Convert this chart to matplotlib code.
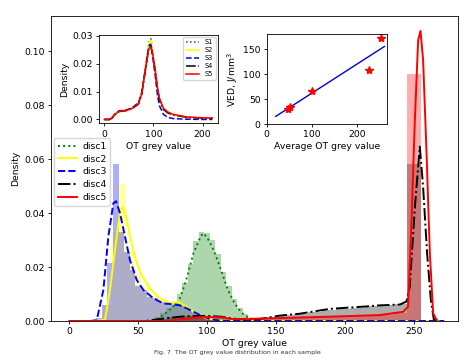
import numpy as np
import matplotlib
matplotlib.use("Agg")
import matplotlib.pyplot as plt

# ---- main chart: histogram bars (bin edges + heights) and KDE points per disc ----
disc_names = ["disc1", "disc2", "disc3", "disc4", "disc5"]
disc_colors = ["g", "yellow", "b", "k", "r"]
disc_styles = [":", "-", "--", "-.", "-"]

disc1_edges = [58, 62, 66, 70, 74, 78, 82, 86, 90, 94, 98, 102, 106, 110, 114, 118, 122, 126, 130, 134, 138, 142]
disc1_hist = [0.0005, 0.0015, 0.003, 0.005, 0.007, 0.010, 0.014, 0.021, 0.0295, 0.033, 0.0325, 0.030,
              0.025, 0.018, 0.013, 0.008, 0.005, 0.0025, 0.001, 0.0005, 0.0002]
disc2_edges = [24.3, 29.9, 35.5, 41.1, 46.7, 52.3, 57.9, 63.5, 69.1, 74.7, 80.3, 85.9, 91.5, 97.1, 102.7, 108.3]
disc2_hist = [0.006, 0.033, 0.0506, 0.0257, 0.017, 0.013, 0.0095, 0.0078, 0.007, 0.0072, 0.006, 0.0035,
              0.002, 0.0008, 0.0003]
disc3_edges = [19.3, 23.4, 27.5, 31.6, 35.7, 39.8, 43.9, 48.0, 52.1, 56.2, 60.3, 64.4, 68.5, 72.6, 76.7,
               80.8, 84.9, 89.0, 93.1, 97.2, 101.3, 105.4, 109.5]
disc3_hist = [0.001, 0.006, 0.0214, 0.058, 0.033, 0.0257, 0.019, 0.013, 0.0115, 0.009, 0.0085, 0.007,
              0.0065, 0.006, 0.006, 0.0055, 0.004, 0.003, 0.002, 0.001, 0.0006, 0.0002]
disc4_edges = [61.2, 71.4, 81.6, 91.8, 102.0, 112.2, 122.4, 132.6, 142.8, 153.0, 163.2, 173.4, 183.6,
               193.8, 204.0, 214.2, 224.4, 234.6, 244.8, 249.9, 255.0]
disc4_hist = [0.0007, 0.0015, 0.002, 0.002, 0.0015, 0.0007, 0.0005, 0.0009, 0.0016, 0.0022, 0.0027,
              0.0033, 0.0040, 0.0045, 0.0050, 0.0055, 0.0060, 0.0064, 0.058, 0.058]
disc5_edges = [81.6, 91.8, 102.0, 112.2, 122.4, 142.8, 163.2, 183.6, 204.0, 224.4, 234.6, 244.8, 249.9, 255.0]
disc5_hist = [0.0012, 0.0016, 0.0015, 0.0008, 0.0009, 0.0011, 0.0013, 0.0016, 0.0019, 0.0023, 0.003,
              0.0915, 0.0915]

disc1_kx = [45, 60, 65, 70, 75, 80, 85, 90, 95, 97, 100, 105, 110, 115, 120, 125, 130, 135, 140, 150]
disc1_ky = [0, 0, 0.001, 0.003, 0.005, 0.008, 0.0155, 0.025, 0.031, 0.0325, 0.031, 0.026, 0.019, 0.0115,
            0.0065, 0.003, 0.0012, 0.0004, 0.0001, 0]
disc2_kx = [0, 20, 25.9, 29.5, 33.1, 36.8, 38.7, 41.6, 44, 47.7, 51.3, 58.5, 65.8, 73.1, 79.1, 85.1, 92.4,
            99.7, 110, 120, 270]
disc2_ky = [0, 0, 0.0005, 0.0115, 0.0263, 0.0406, 0.0423, 0.0383, 0.0312, 0.0237, 0.0181, 0.0120, 0.0083,
            0.0067, 0.0071, 0.0052, 0.0027, 0.0009, 0.0002, 0, 0]
disc3_kx = [0, 15, 19.9, 24.7, 28.3, 31.9, 33.9, 36.8, 40.4, 44, 48.9, 53.7, 61, 68.2, 75.5, 80.3, 87.6,
            94.8, 102, 110, 120, 272]
disc3_ky = [0, 0, 0.0003, 0.0115, 0.0312, 0.0436, 0.0444, 0.0399, 0.0312, 0.0226, 0.0152, 0.0115, 0.0084,
            0.0065, 0.0062, 0.0058, 0.0041, 0.0022, 0.0007, 0.0001, 0, 0]
disc4_kx = [0, 55, 63.6, 75, 85, 100, 110, 118.7, 129.6, 140, 152.8, 167.2, 189, 215.7, 225.3, 239.8, 244.6,
            247, 250.7, 254.3, 256.7, 259.6, 262.3, 264.5, 268]
disc4_ky = [0, 0, 0.0006, 0.0013, 0.0018, 0.0019, 0.0016, 0.0009, 0.0004, 0.0009, 0.0020, 0.0027, 0.0045,
            0.0054, 0.0058, 0.0061, 0.0072, 0.0127, 0.042, 0.0646, 0.0497, 0.025, 0.0078, 0.0005, 0]
disc5_kx = [0, 70, 77.9, 94.8, 110, 118.9, 140, 160, 189, 225.3, 242.2, 245.8, 248.3, 250.7, 253.1, 254.8,
            256.7, 259.2, 261.6, 264, 267]
disc5_ky = [0, 0, 0.0004, 0.0015, 0.0014, 0.0007, 0.0009, 0.0012, 0.0016, 0.0022, 0.0034, 0.0053, 0.0374,
            0.0744, 0.104, 0.1075, 0.0967, 0.062, 0.025, 0.0028, 0]

hist_edges = [disc1_edges, disc2_edges, disc3_edges, disc4_edges, disc5_edges]
hist_heights = [disc1_hist, disc2_hist, disc3_hist, disc4_hist, disc5_hist]
kde_x = [disc1_kx, disc2_kx, disc3_kx, disc4_kx, disc5_kx]
kde_y = [disc1_ky, disc2_ky, disc3_ky, disc4_ky, disc5_ky]

# ---- inset 1: sample KDEs ----
s_names = ["S1", "S2", "S3", "S4", "S5"]
s_x = [0, 10, 15, 20, 28.6, 45.6, 55.8, 69.4, 76, 83, 89.8, 92, 94.6, 98, 103.4, 108, 112, 120.4, 130,
       140.8, 168, 200, 220]
s1_y = [0, 0, 0.0004, 0.0015, 0.0028, 0.0033, 0.0039, 0.0057, 0.0093, 0.0180, 0.0268, 0.0285, 0.0290,
        0.0250, 0.0180, 0.0110, 0.0070, 0.0034, 0.0022, 0.0016, 0.0007, 0.0005, 0.0004]
s2_y = [0, 0, 0.0004, 0.0014, 0.0027, 0.0034, 0.0040, 0.0058, 0.0095, 0.0178, 0.0264, 0.0280, 0.0285,
        0.0245, 0.0178, 0.0112, 0.0072, 0.0035, 0.0022, 0.0015, 0.0007, 0.0005, 0.0004]
s3_y = [0, 0, 0.0005, 0.0017, 0.0030, 0.0035, 0.0041, 0.0060, 0.0096, 0.0175, 0.0255, 0.0268, 0.0270,
        0.0230, 0.0160, 0.0090, 0.0050, 0.0018, 0.0007, 0.0003, 0.0001, 0, 0]
s4_y = [0, 0, 0.0004, 0.0015, 0.0028, 0.0032, 0.0038, 0.0055, 0.0090, 0.0170, 0.0248, 0.0258, 0.0262,
        0.0238, 0.0175, 0.0112, 0.0072, 0.0036, 0.0023, 0.0016, 0.0008, 0.0005, 0.0004]
s5_y = [0, 0, 0.0004, 0.0015, 0.0029, 0.0033, 0.0039, 0.0056, 0.0092, 0.0172, 0.0250, 0.0258, 0.0260,
        0.0240, 0.0180, 0.0118, 0.0078, 0.0040, 0.0026, 0.0018, 0.0009, 0.0006, 0.0005]
s_y = [s1_y, s2_y, s3_y, s4_y, s5_y]

# ---- inset 2: VED vs average grey value ----
avg_grey = [46.5, 51.6, 99.5, 226, 252]
ved = [29.5, 34.8, 66.9, 109, 173]
fit_range = [20, 260]

plt.rcParams["font.family"] = "DejaVu Sans"
fs = 6.7

fig = plt.figure(figsize=(4.74, 3.63), dpi=100)
ax = fig.add_axes([0.1076, 0.1157, 0.8586, 0.8402])

for i in range(5):
    e = np.array(hist_edges[i])
    ax.bar(e[:-1], hist_heights[i], width=np.diff(e), align="edge",
           color=disc_colors[i], alpha=0.32, linewidth=0)
    ax.plot(kde_x[i], kde_y[i], color=disc_colors[i], ls=disc_styles[i], lw=1.4,
            label=disc_names[i])

ax.set_xlim(-13.3, 282)
ax.set_ylim(0, 0.113)
ax.set_xticks([0, 50, 100, 150, 200, 250])
ax.set_yticks([0, 0.02, 0.04, 0.06, 0.08, 0.10])
ax.yaxis.set_major_formatter(matplotlib.ticker.FormatStrFormatter("%.2f"))
ax.tick_params(labelsize=fs, length=2.5, width=0.6, pad=2)
for s in ax.spines.values():
    s.set_linewidth(0.6)
ax.set_xlabel("OT grey value", fontsize=fs, labelpad=2)
ax.set_ylabel("Density", fontsize=fs, labelpad=3)
ax.legend(loc="upper left", bbox_to_anchor=(0.0, 0.61), fontsize=fs, borderaxespad=0.35,
          handlelength=2.0, labelspacing=0.4, borderpad=0.4, handletextpad=0.6, framealpha=0.8)

# inset 1
ax1 = fig.add_axes([0.2089, 0.6598, 0.2504, 0.2446])
for i in range(5):
    ax1.plot(s_x, s_y[i], color=disc_colors[i], ls=disc_styles[i], lw=1.1, label=s_names[i])
ax1.set_yticks([0, 0.01, 0.02, 0.03])
ax1.set_xticks([0, 100, 200])
ax1.yaxis.set_major_formatter(matplotlib.ticker.FormatStrFormatter("%.2f"))
ax1.tick_params(labelsize=fs, length=2.5, width=0.6, pad=2)
for s in ax1.spines.values():
    s.set_linewidth(0.6)
ax1.set_xlabel("OT grey value", fontsize=fs, labelpad=2)
ax1.set_ylabel("Density", fontsize=fs, labelpad=2)
ax1.legend(loc="upper right", fontsize=4.8, handlelength=2.0, labelspacing=0.3, borderpad=0.4,
           handletextpad=0.8, borderaxespad=0.3)

# inset 2
ax2 = fig.add_axes([0.5627, 0.6584, 0.2531, 0.2471])
coef = np.polyfit(avg_grey, ved, 1)
ax2.plot(fit_range, np.polyval(coef, fit_range), color="mediumblue", lw=1.0)
ax2.plot(avg_grey, ved, ls="none", marker="*", color="r", markersize=6)
ax2.set_xlim(0, 265)
ax2.set_ylim(0, 180)
ax2.set_xticks([0, 100, 200])
ax2.set_yticks([0, 50, 100, 150])
ax2.tick_params(labelsize=fs, length=2.5, width=0.6, pad=2)
for s in ax2.spines.values():
    s.set_linewidth(0.6)
ax2.set_xlabel("Average OT grey value", fontsize=fs, labelpad=2)
ax2.set_ylabel("VED, J/mm$^3$", fontsize=fs, labelpad=2)

fig.text(0.5, 0.025, "Fig. 7  The OT grey value distribution in each sample", fontsize=4.5,
         ha="center", color="#333333")

fig.savefig("out.png", dpi=100)
